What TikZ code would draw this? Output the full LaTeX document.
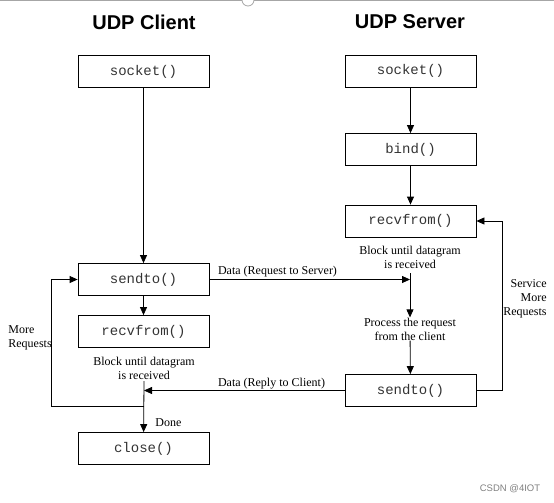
\documentclass[tikz,border=0pt]{standalone}
\usepackage{fontspec}
\setmainfont{Liberation Serif}
\newfontfamily\titlefont{Liberation Sans}
\newfontfamily\codefont{Liberation Mono}
\usetikzlibrary{arrows.meta}

\begin{document}
\begin{tikzpicture}[x=1pt,y=-1pt,line width=0.8pt,
  func/.style={draw, minimum width=131pt, minimum height=32pt, inner sep=0pt,
    text=black!80, font=\codefont\fontsize{14}{16}\selectfont},
  head/.style={font=\titlefont\bfseries\fontsize{20}{24}\selectfont},
  note/.style={font=\fontsize{12}{14}\selectfont, align=center, inner sep=0pt},
  >={Triangle[length=8pt,width=7pt]}]
\useasboundingbox (0,0) rectangle (554,503);
% window edge
\draw[gray!70] (0,0.5) -- (554,0.5);
\draw[gray!70,fill=white] (248,0) circle (6);
% titles
\node[head] (cli) at (144,22) {UDP Client};
\node[head] (srv) at (410,22) {UDP Server};
% client calls
\node[func] (csock) at (143.5,71.5) {socket()};
\node[func] (csend) at (143.5,279.5) {sendto()};
\node[func] (crecv) at (143.5,331.5) {recvfrom()};
\node[func] (cclose) at (143.5,448.5) {close()};
% server calls
\node[func] (ssock) at (410.5,71) {socket()};
\node[func] (sbind) at (410.5,149.5) {bind()};
\node[func] (srecv) at (410.5,221) {recvfrom()};
\node[func] (ssend) at (410.5,390.5) {sendto()};
% notes
\node[note] (cblock) at (144,368) {Block until datagram\\is received};
\node[note] (sblock) at (410,257) {Block until datagram\\is received};
\node[note] (sproc) at (410,329) {Process the request\\from the client};
\node[note,anchor=west] (done) at (155,423) {Done};
\node[note,align=left,anchor=west] (more) at (8,338) {More\\Requests};
\node[note,align=right,anchor=east] (svc) at (547,299) {Service\\More\\Requests};
\node[note] (req) at (277.5,272) {Data (Request to Server)};
\node[note] (rep) at (271.5,384) {Data (Reply to Client)};
\node[font=\titlefont\fontsize{9.5}{10}\selectfont, text=gray] (mark) at (510,489) {CSDN @4IOT};
% points on the lines
\coordinate (ctop) at (144,381);
\coordinate (join) at (144,390.5);
\coordinate (loop) at (144,406);
\coordinate (stop) at (410,273);
\coordinate (sin) at (410,279.5);
% client flow
\draw[->] (csock) -- (csend);
\draw[->] (csend) -- (crecv);
\draw[->] (ctop) -- (cclose);
\draw[->] (loop) -| ([xshift=-26pt]csend.west) -- (csend.west);
% server flow
\draw[->] (ssock) -- (sbind);
\draw[->] (sbind) -- (srecv);
\draw[->] (stop) -- (sproc);
\draw[->] (sproc) -- (ssend);
\draw[->] (ssend.east) -| ([xshift=26pt]srecv.east) -- (srecv.east);
% datagrams
\draw[->] (csend.east) -- (sin);
\draw[->] (ssend.west) -- (join);
\end{tikzpicture}
\end{document}
